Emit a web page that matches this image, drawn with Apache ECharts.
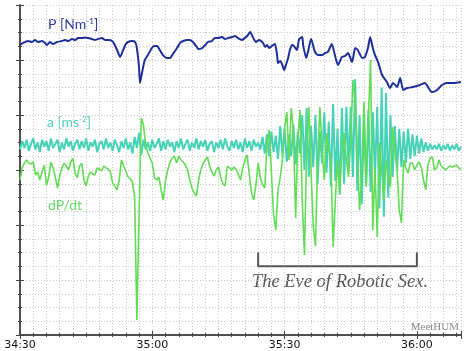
<!DOCTYPE html>
<html>
<head>
<meta charset="utf-8">
<script src="https://cdn.jsdelivr.net/npm/echarts@6/dist/echarts.min.js"></script>
<style>
  html, body { margin: 0; padding: 0; background: #fff; }
  #chart { width: 474px; height: 351px; }
</style>
</head>
<body>
<div id="chart"></div>
<script>
// time axis: seconds after 34:30
const tickLabels = ['34:30', '35:00', '35:30', '36:00'];
const sampleStep = 0.5; // seconds between samples of a and dP/dt

// P [Nm-1] : [seconds, value]
const pressure = [
  [0, 21.09], [0.7, 21.24], [1.8, 21.38], [2.7, 21.31], [3.4, 21.45], [4.1, 21.31], [5.0, 21.38], [5.7, 21.24],
  [6.1, 21.09], [6.8, 21.31], [7.5, 21.16], [8.4, 21.31], [9.5, 21.38], [10.2, 21.45], [10.9, 21.38], [11.8, 21.53],
  [12.5, 21.45], [13.2, 21.6], [14.1, 21.6], [14.7, 21.64], [15.4, 21.6], [16.3, 21.53], [17.0, 21.45], [17.7, 21.53],
  [18.6, 21.6], [19.3, 21.45], [20.0, 21.45], [20.9, 21.38], [21.5, 21.09], [22.2, 20.58], [22.7, 20.22], [23.4, 20.73],
  [24.0, 21.16], [24.5, 21.31], [25.4, 21.38], [26.1, 21.31], [26.5, 20.87], [27.0, 19.42], [27.2, 18.33], [27.7, 19.13],
  [28.3, 20.0], [29.0, 20.36], [29.9, 20.87], [30.4, 21.02], [31.1, 21.02], [31.7, 20.73], [32.4, 20.36], [33.3, 20.15],
  [34.0, 20.15], [34.7, 20.44], [35.6, 20.87], [36.3, 21.24], [37.0, 21.38], [37.9, 21.45], [38.5, 21.45], [39.2, 21.31],
  [40.1, 20.95], [40.4, 20.8], [41.3, 20.87], [42.0, 21.09], [42.6, 21.31], [43.5, 21.38], [44.2, 21.6], [44.9, 21.6],
  [45.8, 21.67], [46.5, 21.53], [47.2, 21.6], [48.1, 21.67], [48.8, 21.75], [49.4, 21.6], [50.3, 21.45], [51.0, 21.6],
  [51.7, 21.82], [52.2, 22.04], [52.8, 21.67], [53.5, 21.31], [54.2, 21.45], [55.1, 21.24], [55.6, 20.95], [56.0, 21.09],
  [56.5, 20.87], [57.1, 21.02], [57.8, 21.16], [58.3, 20.36], [58.5, 19.78], [59.0, 19.93], [59.4, 19.71], [59.9, 19.27],
  [60.3, 19.64], [60.8, 20.15], [61.2, 20.73], [61.7, 21.09], [62.1, 21.02], [62.8, 20.73], [63.3, 21.53], [64.0, 21.67],
  [64.2, 21.09], [64.9, 20.15], [65.3, 20.58], [66.0, 21.53], [66.9, 20.58], [67.6, 20.36], [68.5, 20.36], [69.2, 20.51],
  [69.8, 20.58], [70.7, 21.16], [71.4, 20.36], [72.1, 19.64], [73.0, 20.22], [73.7, 20.29], [74.4, 20.51], [75.3, 19.85],
  [76.0, 20.87], [76.6, 20.73], [77.6, 20.15], [78.2, 20.22], [78.9, 20.87], [79.4, 21.67], [80.0, 20.87], [80.5, 20.36],
  [81.2, 19.85], [82.1, 18.91], [83.2, 18.4], [83.9, 17.96], [84.6, 18.33], [85.5, 18.04], [86.2, 18.69], [86.9, 17.82],
  [87.8, 17.96], [89.1, 18.04], [90.7, 18.18], [91.8, 18.33], [92.5, 18.04], [93.4, 17.67], [94.6, 17.82], [95.7, 18.18],
  [96.8, 18.33], [98.2, 18.33], [100, 18.4]
];

// a [ms-2], one value every sampleStep
const accel = [
  13.5, 14.1, 13.6, 14.2, 13.4, 13.9, 14.3, 13.5, 14.0, 13.3,
  14.2, 13.7, 14.1, 13.4, 14.3, 13.6, 13.9, 14.2, 13.3, 14.0,
  13.5, 14.3, 13.7, 14.1, 13.4, 13.9, 14.2, 13.5, 14.1, 13.6,
  14.3, 13.4, 14.0, 13.7, 14.2, 13.3, 13.9, 14.1, 13.5, 14.3,
  13.6, 14.0, 13.4, 14.2, 13.8, 13.3, 14.1, 13.6, 14.3, 13.5,
  14.0, 13.2, 14.4, 13.6, 14.7, 13.1, 14.2, 13.5, 14.0, 13.4,
  14.2, 13.6, 13.9, 14.3, 13.4, 14.1, 13.5, 14.2, 13.7, 14.0,
  13.3, 14.1, 13.6, 14.3, 13.5, 13.9, 14.2, 13.4, 14.0, 13.6,
  14.3, 13.5, 14.1, 13.7, 14.2, 13.4, 13.9, 14.1, 13.3, 14.0,
  13.6, 14.2, 13.5, 14.3, 13.7, 13.4, 14.1, 13.6, 14.2, 13.5,
  14.0, 13.3, 14.3, 13.6, 14.1, 13.4, 14.2, 13.7, 14.0, 13.5,
  14.4, 13.2, 14.6, 13.0, 14.8, 13.3, 14.5, 12.8, 15.2, 13.1,
  15.0, 12.6, 14.6, 13.0, 15.3, 12.4, 14.8, 13.2, 16.0, 12.0,
  16.5, 11.5, 15.2, 12.2, 16.0, 11.0, 14.8, 12.5, 16.2, 11.8,
  15.5, 10.8, 16.8, 11.2, 15.0, 10.2, 16.5, 11.0, 16.6, 12.2,
  16.6, 11.5, 18.6, 10.5, 16.0, 9.5, 15.8, 11.0, 16.4, 10.4,
  16.2, 11.5, 16.6, 9.2, 18.0, 8.6, 17.6, 10.0, 16.0, 11.5,
  15.2, 12.0, 15.0, 12.2, 14.8, 12.5, 15.0, 12.8, 14.6, 13.0,
  14.5, 13.2, 14.3, 13.3, 14.0, 13.4, 13.9, 13.5, 13.8, 13.5,
  13.9, 13.4, 13.8, 13.5, 13.9, 13.4, 13.8, 13.5, 13.9, 13.4, 13.7
];

// dP/dt, one value every sampleStep
const dPdt = [
  11.27, 12.15, 12.5, 12.73, 12.5, 12.44, 12.58, 11.64, 11.85, 11.27,
  11.85, 12.36, 10.91, 11.49, 12.58, 12.15, 11.49, 10.69, 11.56, 12.15,
  12.5, 12.29, 12.0, 12.58, 12.87, 11.78, 11.42, 12.29, 12.5, 11.27,
  10.84, 11.56, 11.85, 11.71, 11.64, 12.15, 12.07, 11.93, 12.29, 12.15,
  12.07, 11.85, 11.05, 10.84, 10.55, 11.27, 12.73, 12.29, 11.93, 11.49,
  11.35, 11.13, 10.04, 1.09, 8.73, 15.78, 15.27, 13.82, 13.24, 12.87,
  12.5, 11.42, 11.27, 11.49, 10.55, 9.82, 11.27, 12.0, 12.58, 12.87,
  13.02, 12.5, 13.02, 12.73, 12.58, 12.36, 12.0, 11.27, 10.69, 10.33,
  10.11, 11.27, 12.0, 12.44, 12.73, 12.95, 12.29, 11.85, 11.56, 12.0,
  12.22, 11.49, 11.0, 10.84, 12.29, 12.15, 12.0, 12.22, 12.0, 11.71,
  11.27, 12.15, 12.73, 13.09, 11.64, 10.33, 9.82, 10.91, 12.51, 11.42,
  10.91, 10.69, 13.82, 14.91, 11.85, 8.73, 7.64, 10.55, 11.42, 12.73,
  15.05, 16.22, 12.73, 16.51, 14.91, 8.51, 14.18, 16.36, 9.82, 5.82,
  13.45, 16.58, 12.0, 7.85, 6.47, 12.73, 16.58, 13.45, 11.27, 14.69,
  13.45, 12.73, 6.4, 9.82, 12.73, 10.33, 13.45, 14.69, 12.73, 11.49,
  14.18, 18.55, 17.09, 13.45, 9.09, 11.64, 16.95, 10.76, 15.64, 20.0,
  7.64, 12.22, 7.13, 13.96, 12.0, 9.82, 12.73, 11.64, 10.76, 15.13,
  13.45, 12.0, 9.09, 8.15, 12.73, 12.15, 11.78, 12.51, 12.51, 12.0,
  12.36, 12.58, 12.15, 11.27, 10.55, 12.36, 12.87, 12.95, 12.0, 12.15,
  12.73, 12.29, 12.15, 12.0, 12.15, 12.29, 12.22, 12.29, 12.36, 12.15, 12.0
];

// bracket under the active stretch, 35:24 .. 36:00
const bracket = [[54, 6], [54, 5], [90, 5], [90, 6]];

const toPairs = arr => arr.map((v, i) => [i * sampleStep, v]);

const grid = { left: 20, right: 13, top: 5, bottom: 16 };
const frameColor = '#444';
const dotted = { show: true, lineStyle: { color: '#c8c8c8', type: [1, 2], width: 1 } };

function fmtTime(v) {
  if (v % 30 !== 0) return '';
  return tickLabels[v / 30] || '';
}

function minorX(position) {
  return {
    type: 'value', position, min: 0, max: 100, interval: 3,
    axisLine: { show: true, lineStyle: { color: frameColor, width: 1.5 } },
    axisTick: { show: true, inside: true, length: 2, lineStyle: { color: frameColor } },
    axisLabel: { show: false },
    splitLine: position === 'bottom' ? dotted : { show: false }
  };
}
function majorX(position) {
  return {
    type: 'value', position, min: 0, max: 100, interval: 30,
    axisLine: { show: false },
    axisTick: { show: true, inside: true, length: 4, lineStyle: { color: frameColor } },
    axisLabel: {
      show: position === 'bottom', formatter: fmtTime, margin: 5,
      color: '#111', fontSize: 11, fontFamily: 'DejaVu Sans'
    },
    splitLine: { show: false }
  };
}
function minorY(position) {
  return {
    type: 'value', position, min: 0, max: 24, interval: 1,
    axisLine: { show: true, lineStyle: { color: frameColor, width: 1.5 } },
    axisTick: { show: true, inside: true, length: 2, lineStyle: { color: frameColor } },
    axisLabel: { show: false },
    splitLine: position === 'left' ? dotted : { show: false }
  };
}
function majorY(position) {
  return {
    type: 'value', position, min: 0, max: 24, interval: 4,
    axisLine: { show: false },
    axisTick: { show: true, inside: true, length: 4, lineStyle: { color: frameColor } },
    axisLabel: { show: false },
    splitLine: { show: false }
  };
}

const chart = echarts.init(document.getElementById('chart'), null, { renderer: 'canvas' });

chart.setOption({
  animation: false,
  backgroundColor: '#fff',
  grid,
  xAxis: [minorX('bottom'), majorX('bottom'), minorX('top'), majorX('top')],
  yAxis: [minorY('left'), majorY('left'), minorY('right'), majorY('right')],
  series: [
    {
      name: 'P', type: 'line', data: pressure, showSymbol: false, smooth: 0.2,
      lineStyle: { color: '#1e2f9a', width: 2 }
    },
    {
      name: 'a', type: 'line', data: toPairs(accel), showSymbol: false,
      lineStyle: { color: '#45d2b7', width: 2 }
    },
    {
      name: 'dP/dt', type: 'line', data: toPairs(dPdt), showSymbol: false,
      lineStyle: { color: '#62dc55', width: 1.6 }
    },
    {
      name: 'bracket', type: 'line', data: bracket, showSymbol: false, silent: true,
      lineStyle: { color: '#555', width: 2 }
    }
  ],
  graphic: [
    {
      type: 'text', left: 48, top: 17,
      style: {
        text: '{n|P [Nm}{s|-1}{n|]}',
        rich: {
          n: { fontSize: 14, fontFamily: 'Lato', fill: '#2a3a9e' },
          s: { fontSize: 8, fontFamily: 'Lato', fill: '#2a3a9e', verticalAlign: 'top' }
        }
      }
    },
    {
      type: 'text', left: 47, top: 115,
      style: {
        text: '{n|a [ms}{s|-2}{n|]}',
        rich: {
          n: { fontSize: 14, fontFamily: 'Lato', fill: '#52cfbb' },
          s: { fontSize: 8, fontFamily: 'Lato', fill: '#52cfbb', verticalAlign: 'top' }
        }
      }
    },
    {
      type: 'text', left: 48, top: 198,
      style: { text: 'dP/dt', fontSize: 14, fontFamily: 'Lato', fill: '#66d964' }
    },
    {
      type: 'text', x: 340, y: 282,
      style: {
        text: 'The Eve of Robotic Sex.', fontSize: 18.5, fontStyle: 'italic',
        fontFamily: 'Liberation Serif', fill: '#555', align: 'center', verticalAlign: 'middle'
      }
    },
    {
      type: 'text', x: 459, y: 327,
      style: {
        text: 'MeetHUM', fontSize: 11, fontFamily: 'Liberation Serif',
        fill: '#8a8a8a', align: 'right', verticalAlign: 'middle'
      }
    }
  ]
});
</script>
</body>
</html>
